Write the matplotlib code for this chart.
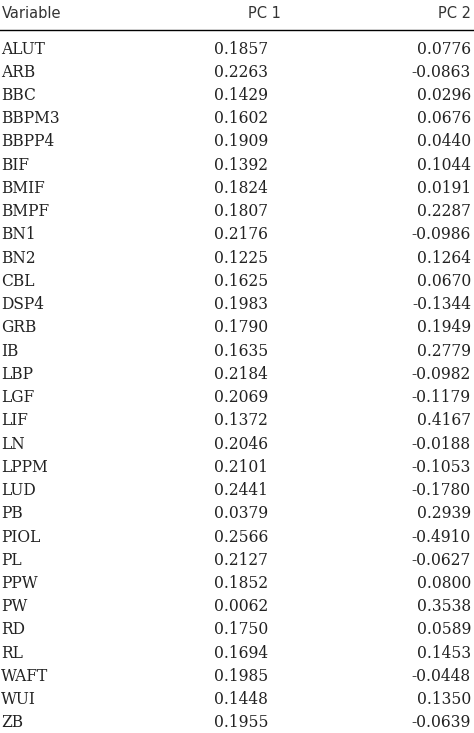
import matplotlib
matplotlib.use("Agg")
import matplotlib.pyplot as plt

variables = ["ALUT", "ARB", "BBC", "BBPM3", "BBPP4", "BIF", "BMIF", "BMPF", "BN1", "BN2",
             "CBL", "DSP4", "GRB", "IB", "LBP", "LGF", "LIF", "LN", "LPPM", "LUD",
             "PB", "PIOL", "PL", "PPW", "PW", "RD", "RL", "WAFT", "WUI", "ZB"]
pc1 = ["0.1857", "0.2263", "0.1429", "0.1602", "0.1909", "0.1392", "0.1824", "0.1807", "0.2176", "0.1225",
       "0.1625", "0.1983", "0.1790", "0.1635", "0.2184", "0.2069", "0.1372", "0.2046", "0.2101", "0.2441",
       "0.0379", "0.2566", "0.2127", "0.1852", "0.0062", "0.1750", "0.1694", "0.1985", "0.1448", "0.1955"]
pc2 = ["0.0776", "-0.0863", "0.0296", "0.0676", "0.0440", "0.1044", "0.0191", "0.2287", "-0.0986", "0.1264",
       "0.0670", "-0.1344", "0.1949", "0.2779", "-0.0982", "-0.1179", "0.4167", "-0.0188", "-0.1053", "-0.1780",
       "0.2939", "-0.4910", "-0.0627", "0.0800", "0.3538", "0.0589", "0.1453", "-0.0448", "0.1350", "-0.0639"]

W, H = 474, 733
fig = plt.figure(figsize=(W / 100, H / 100), dpi=100)
ax = fig.add_axes([0, 0, 1, 1])
ax.set_xlim(0, W)
ax.set_ylim(H, 0)
ax.axis("off")

font = dict(family="DejaVu Serif", fontsize=11.2, color="#222222")
head = dict(family="DejaVu Sans", fontsize=10.5, color="#333333")

ax.text(2, 13, "Variable", va="center", ha="left", **head)
ax.text(248, 13, "PC 1", va="center", ha="left", **head)
ax.text(471, 13, "PC 2", va="center", ha="right", **head)
ax.plot([0, W], [30, 30], color="black", lw=1)

y0, step = 49, 23.24
for i, (v, a, b) in enumerate(zip(variables, pc1, pc2)):
    y = y0 + i * step
    ax.text(1, y, v, va="center", ha="left", **font)
    ax.text(214, y, a, va="center", ha="left", **font)
    ax.text(471, y, b, va="center", ha="right", **font)

fig.savefig("out.png", dpi=100)
